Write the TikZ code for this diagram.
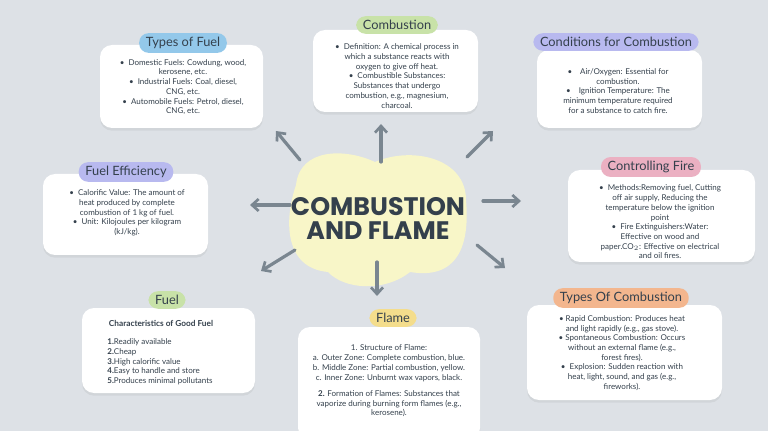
\documentclass[tikz,border=0pt]{standalone}
\usepackage{fontspec}
\setmainfont{Lato}
\newfontfamily\titlefont{Poppins}
\usetikzlibrary{shadows,arrows.meta}
\definecolor{bg}{HTML}{DDE1E6}
\definecolor{ink}{HTML}{34404C}
\definecolor{arr}{HTML}{7A8690}
\definecolor{cblue}{HTML}{93C8EA}
\definecolor{cgreen}{HTML}{C8E2A8}
\definecolor{clav}{HTML}{B8B9EF}
\definecolor{cpink}{HTML}{EBB0C2}
\definecolor{cyel}{HTML}{F4DD8C}
\definecolor{cora}{HTML}{F3B68E}
\definecolor{blob}{HTML}{F8F6C8}
\tikzset{
 card/.style={fill=white,rounded corners=9pt,drop shadow={shadow xshift=0pt,shadow yshift=-2pt,opacity=.12}},
 txt/.style={font=\fontsize{6}{7.3}\selectfont,text=ink,align=center},
 pill/.style={rounded corners=7pt,inner xsep=5pt,inner ysep=3pt,font=\fontsize{9.6}{11}\selectfont,text=ink},
 arw/.style={draw=arr,line width=2.4pt,-{Straight Barb[length=5pt,width=9pt,line width=2pt]},line cap=round},
}
\begin{document}
\begin{tikzpicture}[x=0.75pt,y=-0.75pt]
\useasboundingbox (0,0) rectangle (768,431);
\fill[bg] (0,0) rectangle (768,431);
% cards
\fill[card] (100,45) rectangle (263,128);
\fill[card] (313,30) rectangle (478,112);
\fill[card] (537,50) rectangle (702,128);
\fill[card] (43,174) rectangle (208,255);
\fill[card] (568,170) rectangle (755,262);
\fill[card] (82,308) rectangle (255,393);
\fill[card] (298,327) rectangle (480,440);
\fill[card] (527,305) rectangle (722,400);
% blob
\fill[blob] (296,185) .. controls (300,148) and (345,148) .. (375,162)
 .. controls (412,146) and (466,158) .. (466,200)
 .. controls (470,245) and (458,280) .. (410,272)
 .. controls (385,292) and (345,290) .. (328,272)
 .. controls (284,268) and (284,220) .. (296,185) -- cycle;
\node[font=\titlefont\bfseries\fontsize{19}{20}\selectfont,text=ink,align=center] (center) at (378,218) {COMBUSTION\\[-2pt]AND FLAME};
% arrows
\coordinate (a1s) at (300,160); \coordinate (a1e) at (276,131);
\coordinate (a2s) at (381,162); \coordinate (a2e) at (381,124);
\coordinate (a3s) at (467,157); \coordinate (a3e) at (493,131);
\coordinate (a4s) at (290,205); \coordinate (a4e) at (250,205);
\coordinate (a5s) at (483,201); \coordinate (a5e) at (521,201);
\coordinate (a6s) at (295,250); \coordinate (a6e) at (261,271);
\coordinate (a7s) at (377,262); \coordinate (a7e) at (377,296);
\coordinate (a8s) at (477,245); \coordinate (a8e) at (505,268);
\foreach \i in {1,...,8} \draw[arw] (a\i s) -- (a\i e);
% titles
\node[pill,fill=cblue] (t1) at (183,43) {Types of Fuel};
\node[pill,fill=cgreen] (t2) at (397,25) {Combustion};
\node[pill,fill=clav] (t3) at (616,42) {Conditions for Combustion};
\node[pill,fill=clav] (t4) at (126,172) {Fuel Efficiency};
\node[pill,fill=cpink] (t5) at (651,167) {Controlling Fire};
\node[pill,fill=cgreen] (t6) at (167,300) {Fuel};
\node[pill,fill=cyel] (t7) at (393,318) {Flame};
\node[pill,fill=cora] (t8) at (621,298) {Types Of Combustion};
% texts
\node[txt] (b1) at (183,87) {\textbullet\ \ Domestic Fuels: Cowdung, wood,\\kerosene, etc.\\\textbullet\ \ Industrial Fuels: Coal, diesel,\\CNG, etc.\\\textbullet\ \ Automobile Fuels: Petrol, diesel,\\CNG, etc.};
\node[txt] (b2) at (397,76) {\textbullet\ \ Definition: A chemical process in\\which a substance reacts with\\oxygen to give off heat.\\\textbullet\ \ Combustible Substances:\\Substances that undergo\\combustion, e.g., magnesium,\\charcoal.};
\node[txt] (b3) at (618,91) {\textbullet\quad Air/Oxygen: Essential for\\combustion.\\\textbullet\quad Ignition Temperature: The\\minimum temperature required\\for a substance to catch fire.};
\node[txt] (b4) at (127,213) {\textbullet\ \ Calorific Value: The amount of\\heat produced by complete\\combustion of 1 kg of fuel.\\\textbullet\ \ Unit: Kilojoules per kilogram\\(kJ/kg).};
\node[txt] (b5) at (660,222) {\textbullet\ \ Methods:Removing fuel, Cutting\\off air supply, Reducing the\\temperature below the ignition\\point\\\textbullet\ \ Fire Extinguishers:Water:\\Effective on wood and\\paper.CO$_2$: Effective on electrical\\and oil fires.};
\node[txt,font=\bfseries\fontsize{6.2}{7.4}\selectfont] (b6h) at (161,323) {Characteristics of Good Fuel};
\node[txt,align=left] (b6) at (160,362) {\textbf{1.}Readily available\\\textbf{2.}Cheap\\\textbf{3.}High calorific value\\\textbf{4.}Easy to handle and store\\\textbf{5.}Produces minimal pollutants};
\node[txt] (b7) at (389,381) {1. Structure of Flame:\\a. Outer Zone: Complete combustion, blue.\\b. Middle Zone: Partial combustion, yellow.\\c. Inner Zone: Unburnt wax vapors, black.\\[5pt]\textbf{2.} Formation of Flames: Substances that\\vaporize during burning form flames (e.g.,\\kerosene).};
\node[txt] (b8) at (622,353) {\textbullet\ Rapid Combustion: Produces heat\\and light rapidly (e.g., gas stove).\\\textbullet\ Spontaneous Combustion: Occurs\\without an external flame (e.g.,\\forest fires).\\\textbullet\ \ Explosion: Sudden reaction with\\heat, light, sound, and gas (e.g.,\\fireworks).};
\end{tikzpicture}
\end{document}
